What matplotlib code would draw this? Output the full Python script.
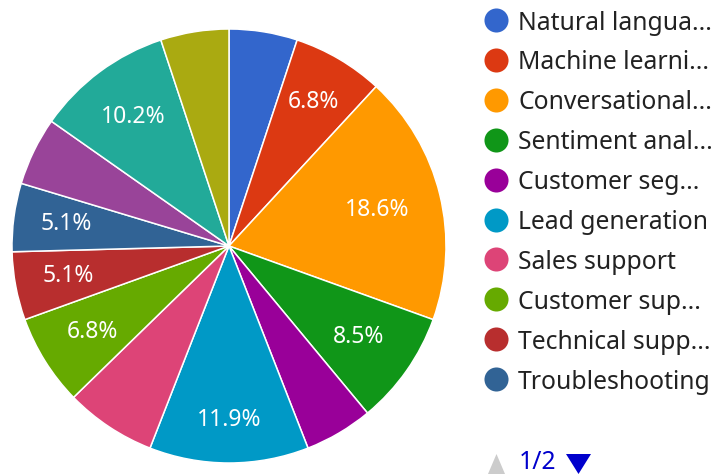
import numpy as np
import matplotlib
matplotlib.use("Agg")
import matplotlib.pyplot as plt
from matplotlib.patches import Polygon

plt.rcParams['font.family'] = ['Noto Sans', 'DejaVu Sans']

# ---- data ----
categories = ["Natural langua...", "Machine learni...", "Conversational...", "Sentiment anal...",
              "Customer seg...", "Lead generation", "Sales support", "Customer sup...",
              "Technical supp...", "Troubleshooting", "Other 11", "Other 12", "Other 13"]
counts = [3, 4, 11, 5, 3, 7, 4, 4, 3, 3, 3, 6, 3]
show_pct = [False, True, True, True, False, True, False, True, True, True, False, True, False]
colors = ["#3366CC", "#DC3912", "#FF9900", "#109618", "#990099", "#0099C6", "#DD4477",
          "#66AA00", "#B82E2E", "#316395", "#994499", "#22AA99", "#AAAA11"]
legend_count = 10
page_text = "1/2"

W, H = 712, 474
fig = plt.figure(figsize=(W / 100, H / 100), dpi=100)

cx, cy, R = 229, 246, 217
ax = fig.add_axes([(cx - R) / W, (H - cy - R) / H, 2 * R / W, 2 * R / H])
wedges, _ = ax.pie(counts, colors=colors, startangle=90, counterclock=False,
                   radius=1.0, wedgeprops=dict(edgecolor="white", linewidth=1.1))
ax.set_xlim(-1, 1)
ax.set_ylim(-1, 1)
ax.set_aspect('equal')
ax.axis('off')

total = sum(counts)
label_r = [0.75, 0.77, 0.705, 0.73, 0.75, 0.80, 0.75, 0.745, 0.756, 0.756, 0.75, 0.74, 0.75]
for w, c, s, r in zip(wedges, counts, show_pct, label_r):
    if not s:
        continue
    mid = np.deg2rad((w.theta1 + w.theta2) / 2)
    ax.text(r * np.cos(mid), r * np.sin(mid), f"{100 * c / total:.1f}%",
            ha='center', va='center', color='white', fontsize=16.5)

# ---- legend overlay ----
ov = fig.add_axes([0, 0, 1, 1])
ov.set_xlim(0, W)
ov.set_ylim(H, 0)
ov.axis('off')
for i in range(legend_count):
    y = 20 + i * 39.9
    ov.scatter([496], [y], s=300, color=colors[i], linewidths=0)
    ov.text(518, y + 9.5, categories[i], ha='left', va='baseline', fontsize=17.8, color='#222222')

# pagination
ov.add_patch(Polygon([[488, 474], [505, 474], [496.5, 454]], closed=True, color='#CCCCCC', lw=0))
ov.text(519, 469, page_text, ha='left', va='baseline', fontsize=17.8, color='#0000CC')
ov.add_patch(Polygon([[566, 454], [591, 454], [578.5, 474]], closed=True, color='#0000CC', lw=0))

fig.savefig("out.png", dpi=100)
